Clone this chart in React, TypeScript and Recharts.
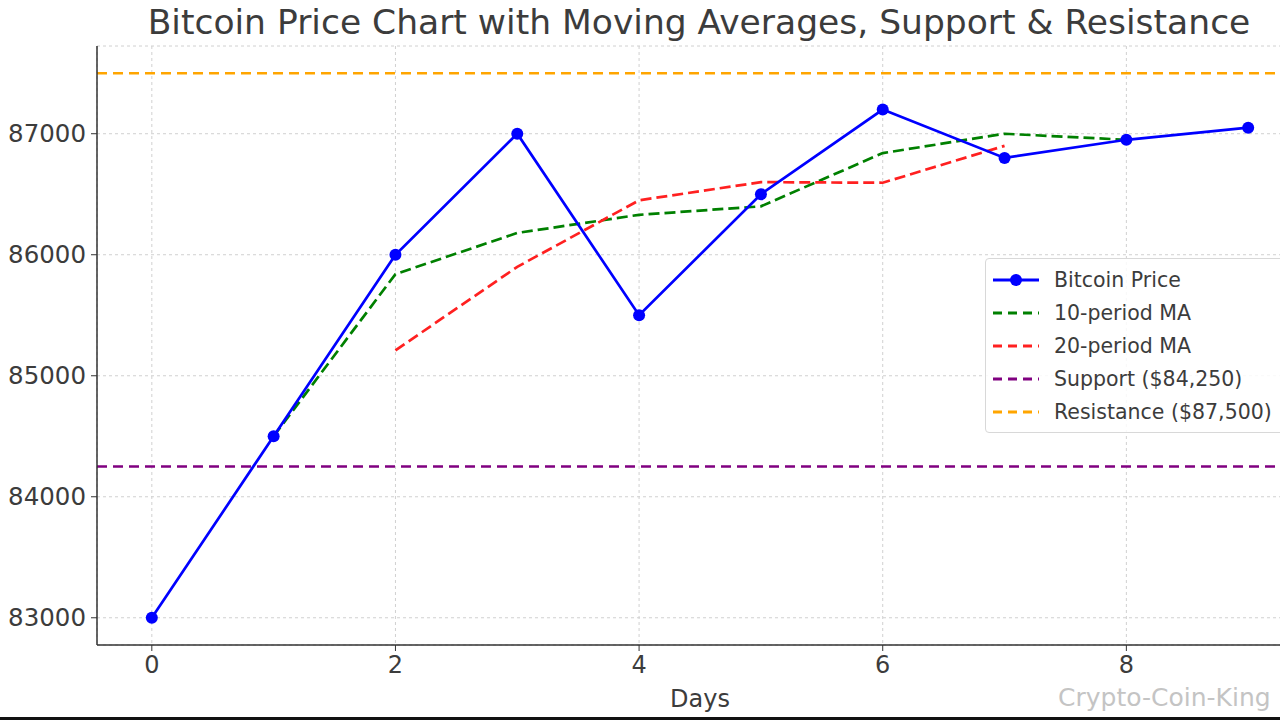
import React from "react";
import { CartesianGrid, Label, Legend, Line, LineChart, ReferenceLine, XAxis, YAxis } from "recharts";

// values
const days = [0, 1, 2, 3, 4, 5, 6, 7, 8, 9];
const price = [83000, 84500, 86000, 87000, 85500, 86500, 87200, 86800, 86950, 87050];
const ma10 = [null, 84500, 85840, 86180, 86330, 86400, 86840, 87000, 86950, null];
const ma20 = [null, null, 85210, 85900, 86450, 86600, 86595, 86900, null, null];
const support = 84250;
const resistance = 87500;
const xTicks = [0, 2, 4, 6, 8];
const yTicks = [83000, 84000, 85000, 86000, 87000];

const legendItems = [
  { name: "Bitcoin Price", color: "#0000ff", dashed: false, dot: true },
  { name: "10-period MA", color: "#008000", dashed: true, dot: false },
  { name: "20-period MA", color: "#ff2020", dashed: true, dot: false },
  { name: "Support ($84,250)", color: "#800080", dashed: true, dot: false },
  { name: "Resistance ($87,500)", color: "#ffa500", dashed: true, dot: false },
];

const data = days.map((d, i) => ({ day: d, price: price[i], ma10: ma10[i], ma20: ma20[i] }));

const FONT = "'DejaVu Sans', sans-serif";
const TEXT = "#3c3c3c";

const LegendBox = () => (
  <div
    style={{
      border: "1px solid #d8d8d8",
      borderRadius: 4,
      background: "rgba(255,255,255,0.85)",
      padding: "4px 0 4px 6px",
      fontFamily: FONT,
      fontSize: 20.5,
      color: TEXT,
      width: 330,
    }}
  >
    {legendItems.map((it) => (
      <div key={it.name} style={{ display: "flex", alignItems: "center", height: 33, whiteSpace: "nowrap" }}>
        <svg width={48} height={14} style={{ marginRight: 14 }}>
          <line
            x1={1}
            x2={47}
            y1={7}
            y2={7}
            stroke={it.color}
            strokeWidth={3}
            strokeDasharray={it.dashed ? "9 6" : undefined}
          />
          {it.dot && <circle cx={24} cy={7} r={6} fill={it.color} />}
        </svg>
        <span>{it.name}</span>
      </div>
    ))}
  </div>
);

const App = () => {
  return (
    <div style={{ position: "fixed", left: 0, top: 0, width: 1280, height: 720, overflow: "hidden", background: "#fff" }}>
      <div
        style={{
          position: "absolute",
          left: 0,
          top: 0,
          width: 1398,
          textAlign: "center",
          fontFamily: FONT,
          fontSize: 34.5,
          lineHeight: "44px",
          color: TEXT,
        }}
      >
        Bitcoin Price Chart with Moving Averages, Support &amp; Resistance
      </div>
      <LineChart width={1310} height={720} data={data} margin={{ top: 46, right: 7, bottom: 0, left: 7 }}>
        <CartesianGrid stroke="#d0d0d0" strokeDasharray="3 3" />
        <XAxis
          dataKey="day"
          type="number"
          domain={[-0.45, 9.45]}
          ticks={xTicks}
          allowDataOverflow
          height={75}
          tickSize={6}
          tickMargin={5}
          tick={{ fontSize: 24, fill: TEXT, fontFamily: FONT }}
          stroke="#333"
          axisLine={{ stroke: "#333", strokeWidth: 1.5 }}
        >
          <Label value="Days" position="insideBottom" offset={13} style={{ fontSize: 24, fill: TEXT, fontFamily: FONT }} />
        </XAxis>
        <YAxis
          type="number"
          domain={[82775, 87725]}
          ticks={yTicks}
          allowDataOverflow
          width={90}
          tickSize={6}
          tickMargin={5}
          tick={{ fontSize: 24.5, fill: TEXT, fontFamily: FONT }}
          stroke="#333"
          axisLine={{ stroke: "#333", strokeWidth: 1.5 }}
        />
        <ReferenceLine y={resistance} stroke="#ffa500" strokeWidth={2.5} strokeDasharray="10 6" />
        <ReferenceLine y={support} stroke="#800080" strokeWidth={2.5} strokeDasharray="10 6" />
        <Line
          dataKey="ma10"
          stroke="#008000"
          strokeWidth={2.7}
          strokeDasharray="11 5"
          dot={false}
          activeDot={false}
          isAnimationActive={false}
        />
        <Line
          dataKey="ma20"
          stroke="#ff2020"
          strokeWidth={2.7}
          strokeDasharray="11 5"
          dot={false}
          activeDot={false}
          isAnimationActive={false}
        />
        <Line
          dataKey="price"
          stroke="#0000ff"
          strokeWidth={2.7}
          dot={{ r: 6, fill: "#0000ff", stroke: "none" }}
          activeDot={false}
          isAnimationActive={false}
        />
        <Legend
          layout="horizontal"
          verticalAlign="middle"
          align="center"
          content={() => <LegendBox />}
          wrapperStyle={{ left: 985, top: 258, width: 340 }}
        />
      </LineChart>
      <div
        style={{
          position: "absolute",
          left: 1058,
          top: 683,
          fontFamily: FONT,
          fontSize: 25,
          lineHeight: "30px",
          color: "#c4c4c4",
          whiteSpace: "nowrap",
        }}
      >
        Crypto-Coin-King
      </div>
      <div style={{ position: "absolute", left: 0, top: 717, width: 1280, height: 3, background: "#111" }} />
    </div>
  );
};

export default App;
